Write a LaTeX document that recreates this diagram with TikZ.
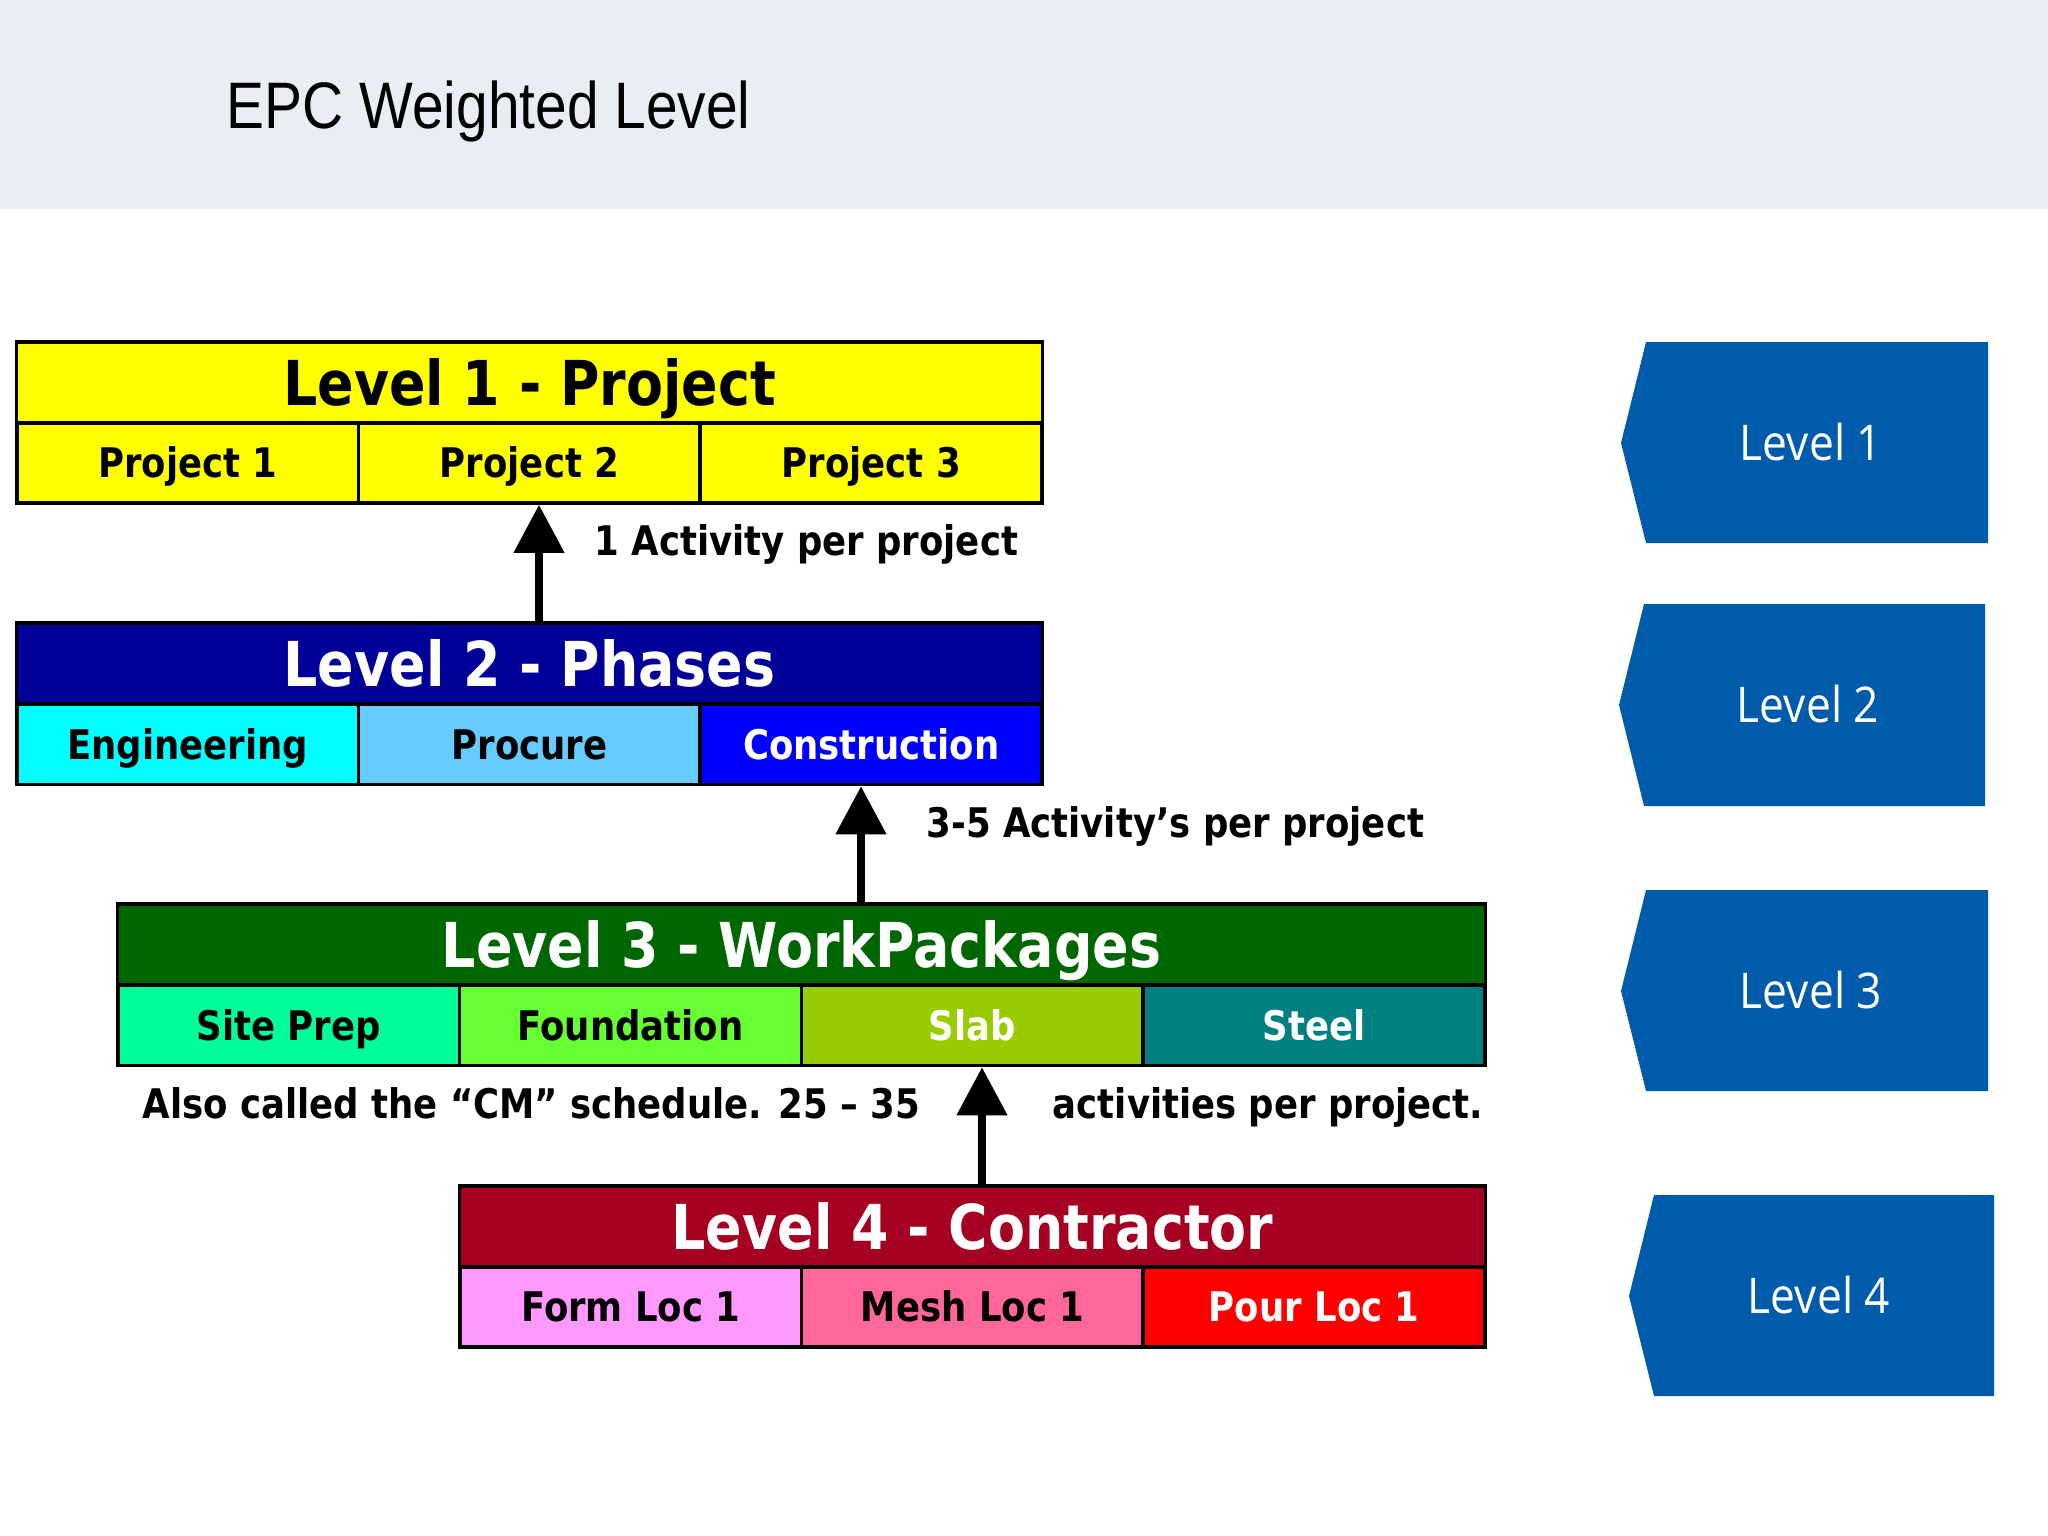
\documentclass[tikz,border=0pt]{standalone}
\usepackage{fontspec}
\setmainfont{DejaVu Sans}[FakeStretch=0.87]
\newfontfamily\titlefont{Liberation Sans}[FakeStretch=0.865]
\newfontfamily\lvfont{Open Sans}[FakeStretch=0.9]
\usetikzlibrary{arrows.meta}
\definecolor{headbg}{HTML}{E9EDF4}
\definecolor{lyel}{HTML}{FFFF00}
\definecolor{ltwo}{HTML}{000099}
\definecolor{eng}{HTML}{00FFFF}
\definecolor{proc}{HTML}{66CCFF}
\definecolor{cons}{HTML}{0000FF}
\definecolor{lthree}{HTML}{006600}
\definecolor{site}{HTML}{00FF99}
\definecolor{found}{HTML}{66FF33}
\definecolor{slab}{HTML}{99CC00}
\definecolor{steel}{HTML}{008080}
\definecolor{lfour}{HTML}{A50021}
\definecolor{form}{HTML}{FF99FF}
\definecolor{mesh}{HTML}{FF6699}
\definecolor{pour}{HTML}{FF0000}
\definecolor{chevc}{HTML}{005BAA}
\tikzset{
  ttl/.style={draw=black, line width=1pt, minimum height=0.81cm, inner sep=0pt,
    font=\bfseries\fontsize{17.6}{20}\selectfont, text height=12.85pt, text depth=0pt},
  cell/.style={draw=black, line width=1pt, minimum height=0.80cm, minimum width=3.4175cm, inner sep=0pt,
    font=\bfseries\fontsize{11.6}{13}\selectfont, text height=8.45pt, text depth=0pt},
  lbl/.style={inner sep=0pt, font=\bfseries\fontsize{11.6}{13}\selectfont},
  lv/.style={inner sep=0pt, text=white, font=\lvfont\fontsize{14}{16}\selectfont, text height=10pt, text depth=0pt},
  chev/.style={fill=chevc},
  arr/.style={line width=2.2pt, -{Triangle[width=0.49cm, length=0.48cm]}}
}
\begin{document}
\begin{tikzpicture}[x=0.01cm, y=-0.01cm]
\useasboundingbox (0,0) rectangle (2048,1536);
\fill[headbg] (0,0) rectangle (2048,209);
\node[anchor=base west, inner sep=0pt, font=\titlefont\fontsize{18.7}{20}\selectfont] (title) at (226,128) {EPC Weighted Level};

% Level 1
\node[ttl, fill=lyel, minimum width=10.25cm] (l1) at (529.5,382.5) {Level 1 - Project};
\node[cell, fill=lyel] (p1) at (187.8,463) {Project 1};
\node[cell, fill=lyel] (p2) at (529.5,463) {Project 2};
\node[cell, fill=lyel] (p3) at (871.2,463) {Project 3};

% Level 2
\node[ttl, fill=ltwo, text=white, minimum width=10.25cm] (l2) at (529.5,663.5) {Level 2 - Phases};
\node[cell, fill=eng] (e1) at (187.8,744.5) {Engineering};
\node[cell, fill=proc] (e2) at (529.5,744.5) {Procure};
\node[cell, fill=cons, text=white] (e3) at (871.2,744.5) {Construction};

% Level 3
\node[ttl, fill=lthree, text=white, minimum width=13.67cm] (l3) at (801.5,944.5) {Level 3 - WorkPackages};
\node[cell, fill=site] (w1) at (288.9,1025.5) {Site Prep};
\node[cell, fill=found] (w2) at (630.6,1025.5) {Foundation};
\node[cell, fill=slab, text=white] (w3) at (972.4,1025.5) {Slab};
\node[cell, fill=steel, text=white] (w4) at (1314.1,1025.5) {Steel};

% Level 4
\node[ttl, fill=lfour, text=white, minimum width=10.25cm] (l4) at (972.5,1226.5) {Level 4 - Contractor};
\node[cell, fill=form] (f1) at (630.8,1307) {Form Loc 1};
\node[cell, fill=mesh] (f2) at (972.5,1307) {Mesh Loc 1};
\node[cell, fill=pour, text=white] (f3) at (1314.2,1307) {Pour Loc 1};

% arrows
\coordinate (a1) at (539,0);
\coordinate (a2) at (861,0);
\coordinate (a3) at (982,0);
\draw[arr] (l2.north -| a1) -- (p2.south -| a1);
\draw[arr] (l3.north -| a2) -- (e3.south -| a2);
\draw[arr] (l4.north -| a3) -- (w3.south -| a3);

% labels
\node[lbl, anchor=base west] (t1) at (594,555) {1 Activity per project};
\node[lbl, anchor=base west] (t2) at (926,837) {3-5 Activity’s per project};
\node[lbl, anchor=base west] (t3) at (142,1118) {Also called the “CM” schedule. 25 – 35};
\node[lbl, anchor=base east] (t4) at (1484,1118) {activities per project.};

% chevrons
\fill[chev] (1621,443) -- (1646,342) -- (1988,342) -- (1988,543) -- (1646,543) -- cycle;
\node[lv] (c1) at (1811,443) {Level 1};
\fill[chev] (1619,705) -- (1644,604) -- (1985,604) -- (1985,806) -- (1644,806) -- cycle;
\node[lv] (c2) at (1808,705) {Level 2};
\fill[chev] (1621,991) -- (1646,890) -- (1988,890) -- (1988,1091) -- (1646,1091) -- cycle;
\node[lv] (c3) at (1811,991) {Level 3};
\fill[chev] (1629,1296) -- (1654,1195) -- (1994,1195) -- (1994,1396) -- (1654,1396) -- cycle;
\node[lv] (c4) at (1819,1296) {Level 4};
\end{tikzpicture}
\end{document}
